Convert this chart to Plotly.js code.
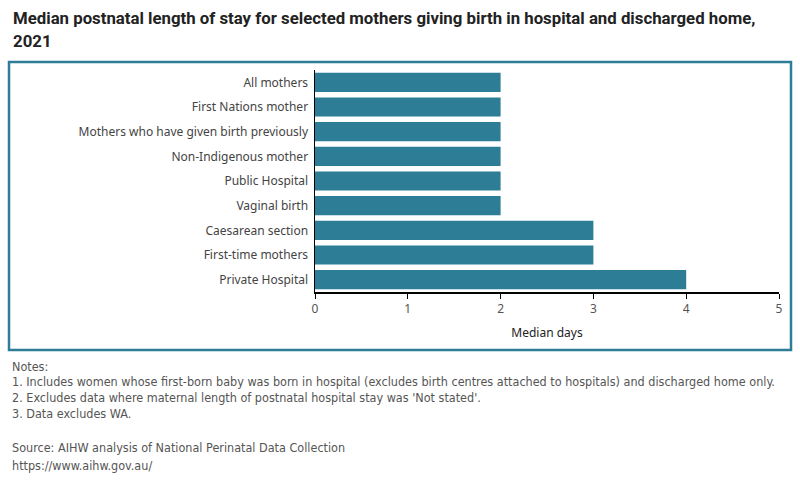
<!DOCTYPE html>
<html>
<head>
<meta charset="utf-8">
<script src="https://cdn.plot.ly/plotly-3.0.1.min.js"></script>
<style>
  html, body { margin: 0; padding: 0; background: #ffffff; }
  #chart { width: 800px; height: 500px; }
</style>
</head>
<body>
<div id="chart"></div>
<script>
// Median postnatal length of stay (days), by mother group
const categories = [
  "All mothers",
  "First Nations mother",
  "Mothers who have given birth previously",
  "Non-Indigenous mother",
  "Public Hospital",
  "Vaginal birth",
  "Caesarean section",
  "First-time mothers",
  "Private Hospital"
];
const medianDays = [2, 2, 2, 2, 2, 2, 3, 3, 4];
const xTicks = [0, 1, 2, 3, 4, 5];

const titleLines = [
  "Median postnatal length of stay for selected mothers giving birth in hospital and discharged home,",
  "2021"
];
const noteLines = [
  "Notes:",
  "1. Includes women whose first-born baby was born in hospital (excludes birth centres attached to hospitals) and discharged home only.",
  "2. Excludes data where maternal length of postnatal hospital stay was 'Not stated'.",
  "3. Data excludes WA."
];
const sourceLines = [
  "Source: AIHW analysis of National Perinatal Data Collection",
  "https://www.aihw.gov.au/"
];

// Plot area in pixels
const W = 800, H = 500;
const plotL = 315, plotR = 779, plotT = 70, plotB = 292;
const px = x => (x - plotL) / (plotR - plotL);
const py = y => (plotB - y) / (plotB - plotT);

const teal = "#2e7d96";
const font = "Noto Sans, sans-serif";
const narrow = "DejaVu Sans Condensed, Liberation Sans Narrow, sans-serif";
const titleFont = "Roboto, sans-serif";

const annotations = [];
titleLines.forEach((t, i) => {
  annotations.push({
    text: "<b>" + t + "</b>", xref: "paper", yref: "paper",
    x: px(11), y: py(18 + i * 23), xanchor: "left", yanchor: "middle",
    showarrow: false, font: { family: titleFont, size: 16.8, color: "#222222" }
  });
});
noteLines.forEach((t, i) => {
  annotations.push({
    text: t, xref: "paper", yref: "paper",
    x: px(10), y: py(366 + i * 15.7), xanchor: "left", yanchor: "middle",
    showarrow: false, font: { family: narrow, size: 12.5, color: "#555555" }
  });
});
sourceLines.forEach((t, i) => {
  annotations.push({
    text: t, xref: "paper", yref: "paper",
    x: px(10), y: py(447 + i * 18), xanchor: "left", yanchor: "middle",
    showarrow: false, font: { family: narrow, size: 12.5, color: "#555555" }
  });
});

const data = [{
  type: "bar",
  orientation: "h",
  y: categories,
  x: medianDays,
  marker: { color: teal },
  hoverinfo: "x+y"
}];

const layout = {
  width: W, height: H,
  margin: { l: plotL, r: W - plotR, t: plotT, b: H - plotB, pad: 0 },
  paper_bgcolor: "#ffffff",
  plot_bgcolor: "#ffffff",
  showlegend: false,
  bargap: 0.22,
  font: { family: font, size: 12, color: "#444444" },
  xaxis: {
    range: [0, 5],
    tickvals: xTicks,
    ticks: "outside", ticklen: 5, tickcolor: "#000000", tickwidth: 1,
    showgrid: false, zeroline: false,
    showline: true, linecolor: "#000000", linewidth: 1.5,
    tickfont: { family: font, size: 12, color: "#555555" },
    title: { text: "Median days", font: { family: font, size: 12, color: "#222222" }, standoff: 12 }
  },
  yaxis: {
    autorange: "reversed",
    showgrid: false, zeroline: false,
    showline: true, linecolor: "#000000", linewidth: 1.5,
    ticks: "", ticklabelstandoff: 3,
    tickfont: { family: font, size: 12, color: "#444444" }
  },
  shapes: [{
    type: "rect", xref: "paper", yref: "paper",
    x0: px(9), x1: px(791), y0: py(350), y1: py(62),
    line: { color: teal, width: 2.5 }, fillcolor: "rgba(0,0,0,0)", layer: "below"
  }],
  annotations: annotations
};

Plotly.newPlot("chart", data, layout, { displayModeBar: false, staticPlot: true });
</script>
</body>
</html>
